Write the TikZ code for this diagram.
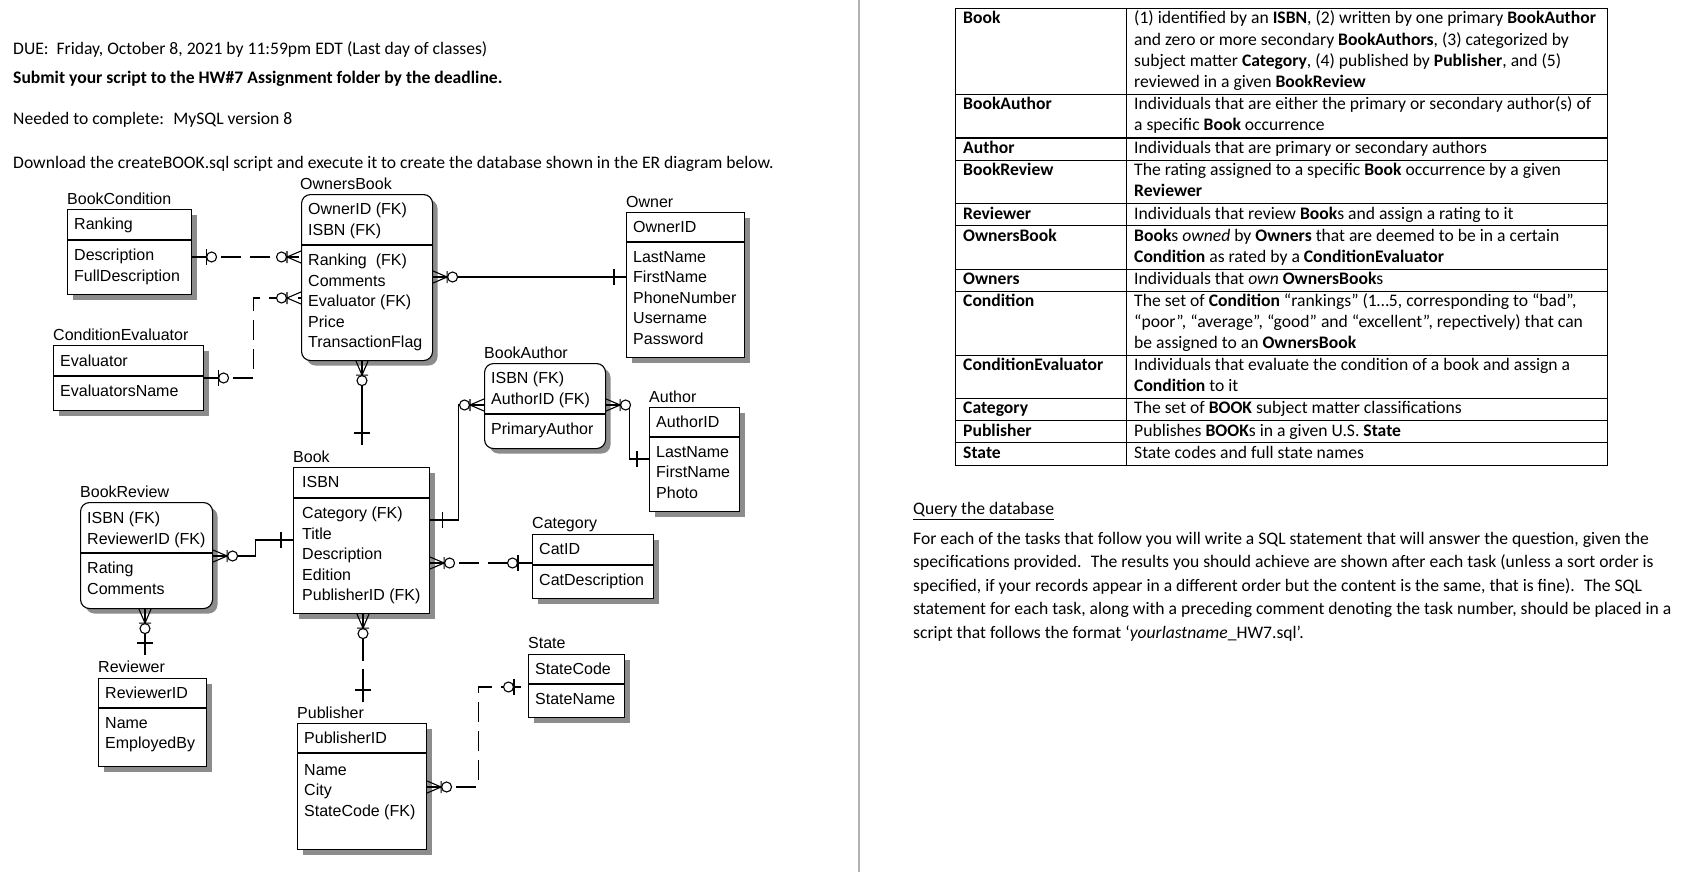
\documentclass[tikz,border=0pt]{standalone}
\usepackage{fontspec}
\setmainfont{Carlito}
\newfontfamily\erfamily{Liberation Sans}
\usepackage{array}
\usetikzlibrary{shadows,decorations.markings}

\begin{document}
\begin{tikzpicture}[x=1pt,y=-1pt,
    ent/.style={draw,line width=1.1pt,fill=white,anchor=north west,inner sep=0pt,
                drop shadow={shadow xshift=5pt,shadow yshift=-5pt,fill=black!45,opacity=1}},
    wkent/.style={ent,rounded corners=9pt},
    etitle/.style={anchor=west,inner sep=0pt,font=\erfamily\fontsize{16}{20.5}\selectfont},
    attr/.style={anchor=north west,inner sep=0pt,align=left,font=\erfamily\fontsize{16}{20.5}\selectfont},
    sepline/.style={line width=1.1pt},
    rel/.style={line width=1.1pt},
    optrel/.style={rel,dash pattern=on 20pt off 9pt},
    doc/.style={anchor=west,inner sep=0pt,font=\fontsize{17.6}{21.1}\selectfont},
    crowmany/.pic={\draw[solid] (-14,0) -- (0,-6) (-14,0) -- (0,6) (-14,-6) -- (-14,6);
                   \draw[solid,fill=white] (-19.5,0) circle (5);},
    zeroone/.pic={\draw[solid] (-14,-8) -- (-14,8);
                  \draw[solid,fill=white] (-19.5,0) circle (5);},
    justone/.pic={\draw[solid] (-12,-8) -- (-12,8);},
    many start/.style={postaction={decorate,decoration={markings,
        mark=at position 0 with {\pic[transform shape,rotate=180]{crowmany};}}}},
    many end/.style={postaction={decorate,decoration={markings,
        mark=at position 1 with {\pic[transform shape]{crowmany};}}}},
    zeroone start/.style={postaction={decorate,decoration={markings,
        mark=at position 0 with {\pic[transform shape,rotate=180]{zeroone};}}}},
    zeroone end/.style={postaction={decorate,decoration={markings,
        mark=at position 1 with {\pic[transform shape]{zeroone};}}}},
    one start/.style={postaction={decorate,decoration={markings,
        mark=at position 0 with {\pic[transform shape,rotate=180]{justone};}}}},
    one end/.style={postaction={decorate,decoration={markings,
        mark=at position 1 with {\pic[transform shape]{justone};}}}}
]
    \path[use as bounding box,fill=white] (0,0) rectangle (1698,872);

    % left page
    \node[doc] (due) at (13,49) {DUE:~ Friday, October 8, 2021 by 11:59pm EDT (Last day of classes)};
    \node[doc] (submit) at (13,79) {\textbf{Submit your script to the HW\#7 Assignment folder by the deadline.}};
    \node[doc] (needed) at (13,120) {Needed to complete:~ MySQL version 8};
    \node[doc] (download) at (13,164) {Download the createBOOK.sql script and execute it to create the database shown in the ER diagram below.};
    \draw[gray!60,line width=1.5pt] (859,0) -- (859,872);

    % entities
    \node[ent,minimum width=124pt,minimum height=85pt] (bcond) at (67,209) {};
    \draw[sepline] (bcond.west |- 0,240) -- (bcond.east |- 0,240);
    \node[etitle] (bcondT) at (67,199) {BookCondition};
    \node[attr] (bcondK) at (74,218) {Ranking};
    \node[attr] (bcondA) at (74,249) {Description\\FullDescription};

    \node[ent,minimum width=150pt,minimum height=65pt] (ceval) at (53,345) {};
    \draw[sepline] (ceval.west |- 0,376) -- (ceval.east |- 0,376);
    \node[etitle] (cevalT) at (53,335) {ConditionEvaluator};
    \node[attr] (cevalK) at (60,355) {Evaluator};
    \node[attr] (cevalA) at (60,385) {EvaluatorsName};

    \node[wkent,minimum width=131pt,minimum height=166pt] (ownbook) at (301,194) {};
    \draw[sepline] (ownbook.west |- 0,245) -- (ownbook.east |- 0,245);
    \node[etitle] (ownbookT) at (300,184) {OwnersBook};
    \node[attr] (ownbookK) at (308,203) {OwnerID (FK)\\ISBN (FK)};
    \node[attr] (ownbookA) at (308,254) {Ranking~ (FK)\\Comments\\Evaluator (FK)\\Price\\TransactionFlag};

    \node[ent,minimum width=118pt,minimum height=145pt] (owner) at (626,212) {};
    \draw[sepline] (owner.west |- 0,242) -- (owner.east |- 0,242);
    \node[etitle] (ownerT) at (626,202) {Owner};
    \node[attr] (ownerK) at (633,221) {OwnerID};
    \node[attr] (ownerA) at (633,251) {LastName\\FirstName\\PhoneNumber\\Username\\Password};

    \node[wkent,minimum width=121pt,minimum height=85pt] (bookauthor) at (484,363) {};
    \draw[sepline] (bookauthor.west |- 0,414) -- (bookauthor.east |- 0,414);
    \node[etitle] (bookauthorT) at (484,353) {BookAuthor};
    \node[attr] (bookauthorK) at (491,372) {ISBN (FK)\\AuthorID (FK)};
    \node[attr] (bookauthorA) at (491,423) {PrimaryAuthor};

    \node[ent,minimum width=90pt,minimum height=104pt] (author) at (649,407) {};
    \draw[sepline] (author.west |- 0,437) -- (author.east |- 0,437);
    \node[etitle] (authorT) at (649,397) {Author};
    \node[attr] (authorK) at (656,416) {AuthorID};
    \node[attr] (authorA) at (656,446) {LastName\\FirstName\\Photo};

    \node[ent,minimum width=136pt,minimum height=146pt] (book) at (293,467) {};
    \draw[sepline] (book.west |- 0,498) -- (book.east |- 0,498);
    \node[etitle] (bookT) at (293,457) {Book};
    \node[attr] (bookK) at (302,476) {ISBN};
    \node[attr] (bookA) at (302,507) {Category (FK)\\Title\\Description\\Edition\\PublisherID (FK)};

    \node[wkent,minimum width=132pt,minimum height=106pt] (bookreview) at (80,502) {};
    \draw[sepline] (bookreview.west |- 0,553) -- (bookreview.east |- 0,553);
    \node[etitle] (bookreviewT) at (80,492) {BookReview};
    \node[attr] (bookreviewK) at (87,512) {ISBN (FK)\\ReviewerID (FK)};
    \node[attr] (bookreviewA) at (87,562) {Rating\\Comments};

    \node[ent,minimum width=108pt,minimum height=88pt] (reviewer) at (98,678) {};
    \draw[sepline] (reviewer.west |- 0,708) -- (reviewer.east |- 0,708);
    \node[etitle] (reviewerT) at (98,667) {Reviewer};
    \node[attr] (reviewerK) at (105,687) {ReviewerID};
    \node[attr] (reviewerA) at (105,717) {Name\\EmployedBy};

    \node[ent,minimum width=121pt,minimum height=64pt] (category) at (532,534) {};
    \draw[sepline] (category.west |- 0,565) -- (category.east |- 0,565);
    \node[etitle] (categoryT) at (532,525) {Category};
    \node[attr] (categoryK) at (539,543) {CatID};
    \node[attr] (categoryA) at (539,574) {CatDescription};

    \node[ent,minimum width=96pt,minimum height=63pt] (state) at (528,654) {};
    \draw[sepline] (state.west |- 0,684) -- (state.east |- 0,684);
    \node[etitle] (stateT) at (528,643) {State};
    \node[attr] (stateK) at (535,663) {StateCode};
    \node[attr] (stateA) at (535,693) {StateName};

    \node[ent,minimum width=129pt,minimum height=126pt] (publisher) at (297,723) {};
    \draw[sepline] (publisher.west |- 0,753) -- (publisher.east |- 0,753);
    \node[etitle] (publisherT) at (297,713) {Publisher};
    \node[attr] (publisherK) at (304,732) {PublisherID};
    \node[attr] (publisherA) at (304,764) {Name\\City\\StateCode (FK)};

    % relationships
    \draw[optrel,zeroone start,many end] (bcond.east |- 0,257) -- (ownbook.west |- 0,257);
    \draw[optrel,zeroone start,many end] (ceval.east |- 0,378) -- ++(49,0) |- (ownbook.west |- 0,298);
    \draw[rel,many start,one end] (ownbook.east |- 0,277) -- (owner.west |- 0,277);
    \draw[rel,many start,one end] (ownbook.south -| 362,0) -- ([yshift=22pt]book.north -| 362,0);
    \draw[rel,one start,many end] (book.east |- 0,520) -- ++(28,0) |- (bookauthor.west |- 0,405);
    \draw[rel,many start,one end] (bookauthor.east |- 0,405) -- ++(23,0) |- (author.west |- 0,459);
    \draw[rel,many start,one end] (bookreview.east |- 0,556) -- ++(42,0) |- (book.west |- 0,540);
    \draw[rel,many start,one end] (bookreview.south -| 145,0) -- ([yshift=23pt]reviewer.north -| 145,0);
    \draw[optrel,many start,zeroone end] (book.east |- 0,563) -- (category.west |- 0,563);
    \draw[rel,dash pattern=on 47pt off 8pt on 40pt off 8pt,many start,one end] (book.south -| 363,0) -- ([yshift=21pt]publisher.north -| 363,0);
    \draw[optrel,many start,zeroone end] (publisher.east |- 0,787) -- ++(51,0) |- (state.west |- 0,687);

    % right page
    \node[anchor=north west,inner sep=0pt,font=\fontsize{17.6}{21.1}\selectfont] (deftab) at (955,8) {%
      \setlength{\tabcolsep}{7pt}\setlength{\arrayrulewidth}{1pt}%
      \begin{tabular}{|>{\raggedright\arraybackslash}p{156pt}|>{\raggedright\arraybackslash}p{466pt}|}
      \hline
      \textbf{Book} & (1) identified by an \textbf{ISBN}, (2) written by one primary \textbf{BookAuthor}\newline
        and zero or more secondary \textbf{BookAuthors}, (3) categorized by\newline
        subject matter \textbf{Category}, (4) published by \textbf{Publisher}, and (5)\newline
        reviewed in a given \textbf{BookReview} \\
      \hline
      \textbf{BookAuthor} & Individuals that are either the primary or secondary author(s) of\newline
        a specific \textbf{Book} occurrence \\
      \noalign{\hrule height 2.2pt}
      \textbf{Author} & Individuals that are primary or secondary authors \\
      \hline
      \textbf{BookReview} & The rating assigned to a specific \textbf{Book} occurrence by a given\newline
        \textbf{Reviewer} \\
      \hline
      \textbf{Reviewer} & Individuals that review \textbf{Book}s and assign a rating to it \\
      \hline
      \textbf{OwnersBook} & \textbf{Book}s \textit{owned} by \textbf{Owners} that are deemed to be in a certain\newline
        \textbf{Condition} as rated by a \textbf{ConditionEvaluator} \\
      \hline
      \textbf{Owners} & Individuals that \textit{own} \textbf{OwnersBook}s \\
      \hline
      \textbf{Condition} & The set of \textbf{Condition} “rankings” (1…5, corresponding to “bad”,\newline
        “poor”, “average”, “good” and “excellent”, repectively) that can\newline
        be assigned to an \textbf{OwnersBook} \\
      \hline
      \textbf{ConditionEvaluator} & Individuals that evaluate the condition of a book and assign a\newline
        \textbf{Condition} to it \\
      \hline
      \textbf{Category} & The set of \textbf{BOOK} subject matter classifications \\
      \hline
      \textbf{Publisher} & Publishes \textbf{BOOK}s in a given U.S. \textbf{State} \\
      \hline
      \textbf{State} & State codes and full state names \\
      \hline
      \end{tabular}};
    \node[doc] (qhead) at (913,511) {\underline{Query the database}};
    \node[anchor=north west,inner sep=0pt,align=left,font=\fontsize{17.6}{23.4}\selectfont] (qtext) at (913,532)
      {For each of the tasks that follow you will write a SQL statement that will answer the question, given the\\
       specifications provided.~ The results you should achieve are shown after each task (unless a sort order is\\
       specified, if your records appear in a different order but the content is the same, that is fine).~ The SQL\\
       statement for each task, along with a preceding comment denoting the task number, should be placed in a\\
       script that follows the format ‘\textit{yourlastname}\_HW7.sql’.};
\end{tikzpicture}
\end{document}
